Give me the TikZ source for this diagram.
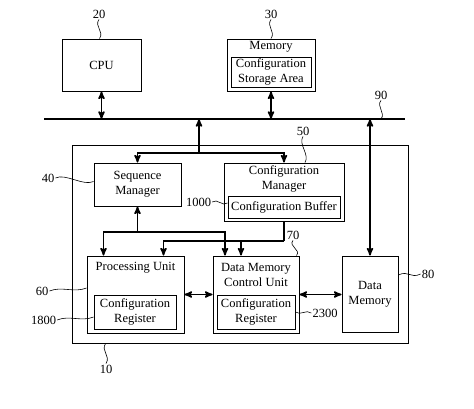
\documentclass[tikz,border=0pt]{standalone}
\usepackage{fontspec}
\setmainfont{Liberation Serif}
\usetikzlibrary{arrows,positioning}

\tikzset{
  box/.style={draw, line width=0.9pt, inner sep=0pt, align=center},
  title/.style={inner sep=0pt, align=center},
  lead/.style={line width=0.6pt},
  num/.style={inner sep=1pt},
  link/.style={line width=1.6pt}
}

\begin{document}
\begin{tikzpicture}[x=1pt,y=-1pt,>=stealth',font=\fontsize{12.5}{15}\selectfont]
\useasboundingbox (0,0) rectangle (474,409);

% system block
\node[box, minimum width=336, minimum height=198] (sys) at (240,244) {};

% cpu and memory on the bus
\node[box, minimum width=79, minimum height=52] (cpu) at (101.5,65) {CPU};
\node[box, minimum width=88, minimum height=52] (mem) at (271,65) {};
\node[title] (memtitle) at (271,47) {Memory};
\node[box, minimum width=80, minimum height=30] (csa) at (271,72) {Configuration\\Storage Area};

\coordinate (busl) at (44,119);
\coordinate (busr) at (405,119);
\draw[line width=2.2pt] (busl) -- (busr);

% managers
\node[box, minimum width=87, minimum height=43] (seq) at (137.5,184.5) {Sequence\\Manager};
\node[box, minimum width=120, minimum height=58] (cm) at (284,192) {};
\node[title] (cmtitle) at (284,179) {Configuration\\Manager};
\node[box, minimum width=112, minimum height=22] (cb) at (284,207) {Configuration Buffer};

% units
\node[box, minimum width=97, minimum height=77] (pu) at (135.5,294.5) {};
\node[title] (putitle) at (135.5,268) {Processing Unit};
\node[box, minimum width=82, minimum height=34] (pureg) at (135,312) {Configuration\\Register};
\node[box, minimum width=86, minimum height=77] (dmcu) at (256,294.5) {};
\node[title] (dmcutitle) at (256,275) {Data Memory\\Control Unit};
\node[box, minimum width=78, minimum height=34] (dmreg) at (256,312) {Configuration\\Register};
\node[box, minimum width=56, minimum height=76] (dm) at (370,294) {Data\\Memory};

% bus connections
\draw[link,<->] (cpu.south) -- (cpu.south |- busl);
\draw[link,<->] (mem.south) -- (mem.south |- busl);
\draw[link,<->] (dm.north) -- (dm.north |- busl);

\coordinate (cfgj) at (199,153);
\draw[link,->] (cfgj) -- (cfgj |- busl);
\draw[link,->] (cfgj) -| (seq.north);
\draw[link,->] (cfgj) -| (cm.north);

% control lines
\coordinate (seqj) at (137.5,232);
\draw[link,->] (seqj) -- (seq.south);
\draw[link,->] (seqj) -| ([xshift=-32]pu.north);
\draw[link,->] (seqj) -| ([xshift=-31]dmcu.north);

\coordinate (cmj) at (284,241);
\draw[link] (cm.south) -- (cmj);
\draw[link,->] (cmj) -| ([xshift=28]pu.north);
\draw[link,->] ([xshift=-15]dmcu.north |- cmj) -- ([xshift=-15]dmcu.north);

% data lines
\draw[link,<->] (pu.east) -- (pu.east -| dmcu.west);
\draw[link,<->] (dmcu.east) -- (dmcu.east -| dm.west);

% reference numbers
\node[num] (n20) at (99,14) {20};
\draw[lead] (n20.south) .. controls +(-5,7) and +(5,-7) .. ([xshift=-2]cpu.north);
\node[num] (n30) at (271,14) {30};
\draw[lead] (n30.south) .. controls +(-5,7) and +(5,-7) .. (mem.north);
\node[num] (n90) at (381,95) {90};
\draw[lead] (n90.south) .. controls +(-5,6) and +(5,-6) .. (n90.south |- busl);
\node[num] (n50) at (303,131) {50};
\draw[lead] (n50.south) .. controls +(-5,8) and +(5,-8) .. ([xshift=21]cm.north);
\node[num] (n40) at (48,178) {40};
\draw[lead] (n40.east) .. controls +(10,-5) and +(-10,5) .. ([yshift=3]seq.west);
\node[num] (n1000) at (198.5,202) {1000};
\draw[lead] (n1000.east) .. controls +(5,-4) and +(-5,4) .. ([yshift=4]cb.west);
\node[num] (n60) at (42,291) {60};
\draw[lead] (n60.east) .. controls +(12,-5) and +(-12,5) .. ([yshift=6.5]pu.west);
\node[num] (n1800) at (43.5,320) {1800};
\draw[lead] (n1800.east) .. controls +(12,-5) and +(-12,5) .. ([yshift=-5]pureg.west);
\node[num] (n70) at (293,235) {70};
\draw[lead] (n70.south) .. controls +(-5,6) and +(5,-6) .. ([xshift=-3]dmcu.north east);
\node[num] (n2300) at (325,313) {2300};
\draw[lead] (dmreg.east) .. controls +(5,4) and +(-5,-4) .. (n2300.west);
\node[num] (n80) at (428,274) {80};
\draw[lead] ([yshift=19]dm.east) .. controls +(10,-5) and +(-10,5) .. (n80.west);
\node[num] (n10) at (106,369) {10};
\draw[lead] ([xshift=34]sys.south west) .. controls +(-5,8) and +(5,-8) .. (n10.north);
\end{tikzpicture}
\end{document}
